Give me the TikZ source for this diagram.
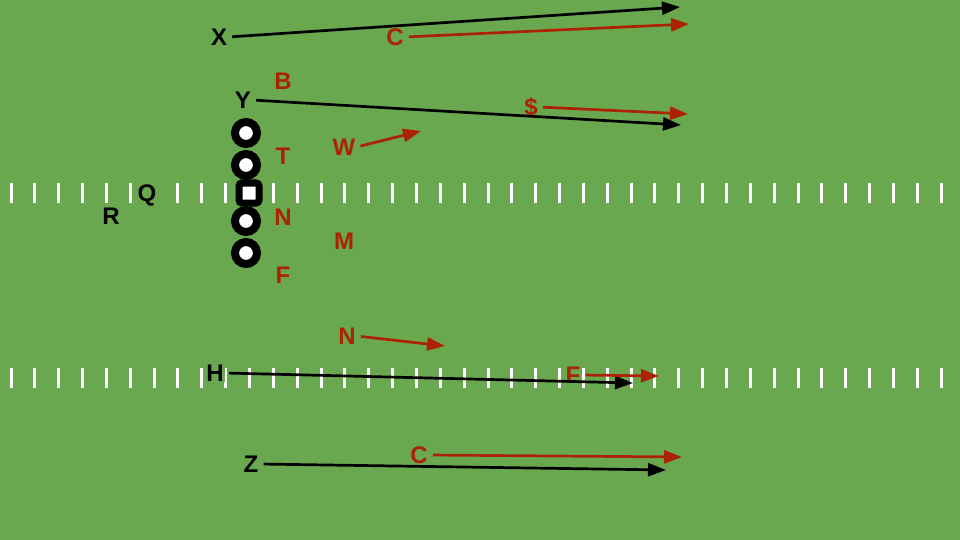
\documentclass[tikz,border=0pt]{standalone}
\usepackage{fontspec}
\setmainfont{Liberation Sans}
\usepackage{tikz}
\usetikzlibrary{arrows.meta}
\definecolor{field}{RGB}{106,168,79}
\definecolor{defred}{RGB}{172,34,4}
\tikzstyle{offense} = [font=\fontsize{24}{26}\selectfont\bfseries, text=black, fill=field, inner sep=1pt]
\tikzstyle{defense} = [font=\fontsize{24}{26}\selectfont\bfseries, text=defred, fill=field, inner sep=1pt]
\tikzstyle{lineman} = [circle, draw=black, line width=8pt, fill=white, minimum size=22pt, inner sep=0pt]
\tikzstyle{center} = [rectangle, rounded corners=3pt, draw=black, line width=7pt, fill=white, minimum size=20pt, inner sep=0pt]
\tikzstyle{route} = [line width=2.7pt, shorten <=4pt, -{Triangle[length=18pt,width=13pt]}]
\tikzstyle{hash} = [white, line width=3pt]

\begin{document}
\begin{tikzpicture}[x=1pt, y=-1pt]
\useasboundingbox (0,0) rectangle (960,540);
\fill[field] (0,0) rectangle (960,540);

% hash marks
\foreach \i in {0,...,39} {
  \draw[hash] ({11+\i*23.85},183) -- ({11+\i*23.85},203);
  \draw[hash] ({11+\i*23.85},368) -- ({11+\i*23.85},388);
}

% offensive line
\node (lt) [lineman] at (246,133) {};
\node (lg) [lineman] at (246,165) {};
\node (ctr) [center] at (249,193) {};
\node (rg) [lineman] at (246,221) {};
\node (rt) [lineman] at (246,253) {};

% offense
\node (X) [offense] at (219,37) {X};
\node (Y) [offense] at (243,100) {Y};
\node (Q) [offense] at (147,195) {Q};
\node (R) [offense] at (111,216) {R};
\node (H) [offense] at (215,373) {H};
\node (Z) [offense] at (251,464) {Z};

% defense
\node (C1) [defense] at (395,37) {C};
\node (B) [defense] at (283,81) {B};
\node (S) [defense] at (531,107) {\$};
\node (W) [defense] at (344,147) {W};
\node (T) [defense] at (283,156) {T};
\node (N1) [defense] at (283,217) {N};
\node (M) [defense] at (344,241) {M};
\node (F1) [defense] at (283,275) {F};
\node (N2) [defense] at (347,336) {N};
\node (F2) [defense] at (573,375) {F};
\node (C2) [defense] at (419,455) {C};

% route ends
\coordinate (Xend) at (680,7);
\coordinate (Yend) at (681,125);
\coordinate (Hend) at (633,383);
\coordinate (Zend) at (666,470);
\coordinate (C1end) at (689,24);
\coordinate (Send) at (688,114);
\coordinate (Wend) at (421,131);
\coordinate (N2end) at (445,346);
\coordinate (F2end) at (659,376);
\coordinate (C2end) at (682,457);

\draw [route] (X.east) -- (Xend);
\draw [route] (Y.east) -- (Yend);
\draw [route] (H.east) -- (Hend);
\draw [route] (Z.east) -- (Zend);
\draw [route, defred] (C1.east) -- (C1end);
\draw [route, defred] (S.east) -- (Send);
\draw [route, defred] (W.east) -- (Wend);
\draw [route, defred] (N2.east) -- (N2end);
\draw [route, defred] (F2.east) -- (F2end);
\draw [route, defred] (C2.east) -- (C2end);
\end{tikzpicture}
\end{document}
